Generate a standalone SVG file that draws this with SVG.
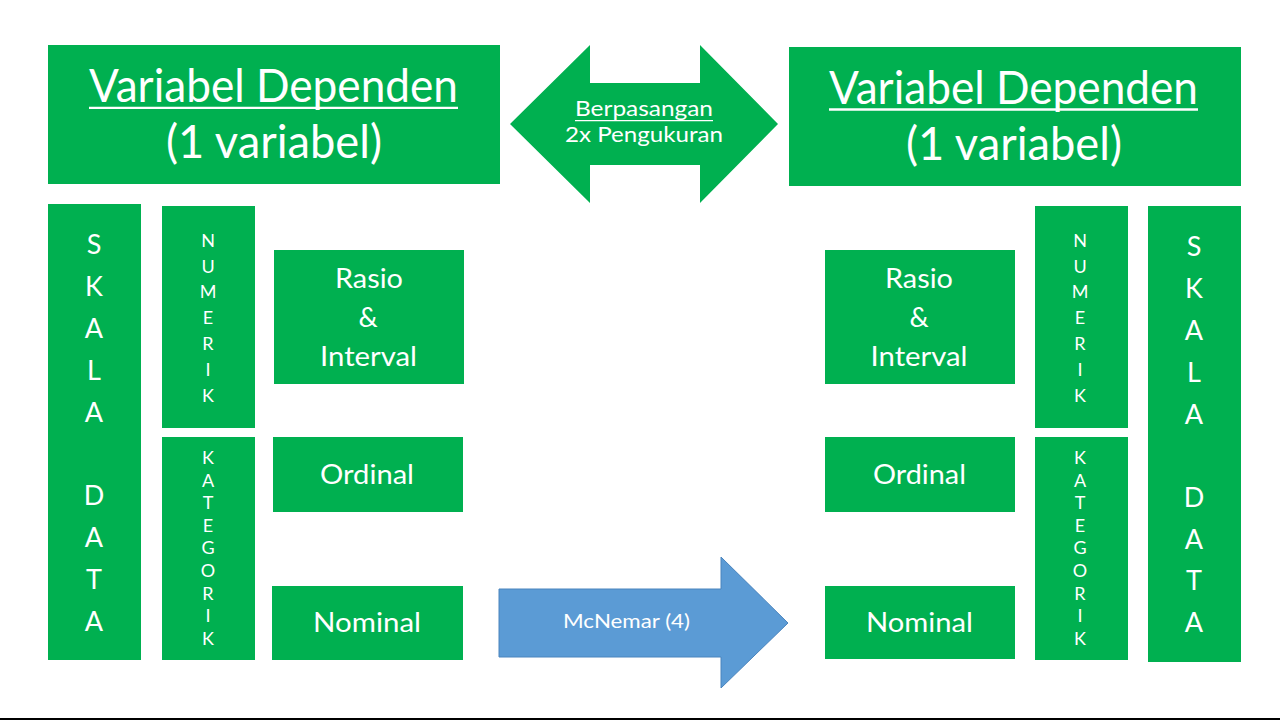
<svg xmlns="http://www.w3.org/2000/svg" width="1280" height="720" viewBox="0 0 1280 720">
<style>
.box{fill:#00B050}
.t{fill:#FFFFFF;font-family:Lato,"Open Sans","Liberation Sans",sans-serif;text-anchor:middle}
.big{font-size:46px}
.mid{font-size:27px}
.sk{font-size:27px}
.vl{font-size:18px}
.ul{stroke:#FFFFFF}
</style>
<rect width="1280" height="720" fill="#FFFFFF"/>
<g id="top-left">
<rect class="box" x="48" y="45" width="452" height="139"/>
<text class="t big" x="273.5" y="102" textLength="369" lengthAdjust="spacingAndGlyphs">Variabel Dependen</text>
<line class="ul" x1="89" y1="107.8" x2="458" y2="107.8" stroke-width="2.3"/>
<text class="t big" x="274" y="158" textLength="216" lengthAdjust="spacingAndGlyphs">(1 variabel)</text>
</g>
<g id="top-right">
<rect class="box" x="789" y="47" width="452" height="139"/>
<text class="t big" x="1013.5" y="104" textLength="369" lengthAdjust="spacingAndGlyphs">Variabel Dependen</text>
<line class="ul" x1="829" y1="109.5" x2="1198" y2="109.5" stroke-width="2.3"/>
<text class="t big" x="1014" y="160" textLength="216" lengthAdjust="spacingAndGlyphs">(1 variabel)</text>
</g>
<g id="paired-arrow">
<polygon fill="#00B050" points="510,124 590,45 590,83 700,83 700,45 778,124 700,203 700,165 590,165 590,203"/>
<text class="t" style="font-size:21px" x="644" y="116" textLength="138" lengthAdjust="spacingAndGlyphs">Berpasangan</text>
<line class="ul" x1="575" y1="120.6" x2="713" y2="120.6" stroke-width="1.4"/>
<text class="t" style="font-size:21px" x="644" y="142" textLength="158" lengthAdjust="spacingAndGlyphs">2x Pengukuran</text>
</g>
<g id="skala-left">
<rect class="box" x="48" y="204" width="93" height="456"/>
<text class="t sk">
<tspan x="94" y="254">S</tspan><tspan x="94" y="296">K</tspan><tspan x="94" y="338">A</tspan><tspan x="94" y="380">L</tspan><tspan x="94" y="422">A</tspan><tspan x="94" y="505">D</tspan><tspan x="94" y="547">A</tspan><tspan x="94" y="589">T</tspan><tspan x="94" y="631">A</tspan>
</text>
</g>
<g id="numerik-left">
<rect class="box" x="162" y="206" width="93" height="222"/>
<text class="t vl">
<tspan x="208" y="247">N</tspan><tspan x="208" y="273">U</tspan><tspan x="208" y="298">M</tspan><tspan x="208" y="324">E</tspan><tspan x="208" y="350">R</tspan><tspan x="208" y="376">I</tspan><tspan x="208" y="402">K</tspan>
</text>
</g>
<g id="kategorik-left">
<rect class="box" x="162" y="437" width="93" height="223"/>
<text class="t vl">
<tspan x="208" y="464">K</tspan><tspan x="208" y="487">A</tspan><tspan x="208" y="509">T</tspan><tspan x="208" y="532">E</tspan><tspan x="208" y="554">G</tspan><tspan x="208" y="577">O</tspan><tspan x="208" y="600">R</tspan><tspan x="208" y="622">I</tspan><tspan x="208" y="645">K</tspan>
</text>
</g>
<g id="rasio-left">
<rect class="box" x="274" y="250" width="190" height="134"/>
<text class="t mid" x="369" y="288" textLength="68" lengthAdjust="spacingAndGlyphs">Rasio</text>
<text class="t mid" x="368" y="327">&amp;</text>
<text class="t mid" x="368.5" y="366" textLength="97" lengthAdjust="spacingAndGlyphs">Interval</text>
</g>
<g id="ordinal-left">
<rect class="box" x="273" y="437" width="190" height="75"/>
<text class="t mid" x="367" y="484" textLength="94" lengthAdjust="spacingAndGlyphs">Ordinal</text>
</g>
<g id="nominal-left">
<rect class="box" x="272" y="586" width="191" height="74"/>
<text class="t mid" x="367" y="632" textLength="108" lengthAdjust="spacingAndGlyphs">Nominal</text>
</g>
<g id="rasio-right">
<rect class="box" x="825" y="250" width="190" height="134"/>
<text class="t mid" x="919" y="288" textLength="68" lengthAdjust="spacingAndGlyphs">Rasio</text>
<text class="t mid" x="919" y="327">&amp;</text>
<text class="t mid" x="919" y="366" textLength="97" lengthAdjust="spacingAndGlyphs">Interval</text>
</g>
<g id="ordinal-right">
<rect class="box" x="825" y="437" width="190" height="75"/>
<text class="t mid" x="919.5" y="484" textLength="93" lengthAdjust="spacingAndGlyphs">Ordinal</text>
</g>
<g id="nominal-right">
<rect class="box" x="825" y="586" width="190" height="73"/>
<text class="t mid" x="919.5" y="632" textLength="107" lengthAdjust="spacingAndGlyphs">Nominal</text>
</g>
<g id="numerik-right">
<rect class="box" x="1035" y="206" width="93" height="222"/>
<text class="t vl">
<tspan x="1080" y="247">N</tspan><tspan x="1080" y="273">U</tspan><tspan x="1080" y="298">M</tspan><tspan x="1080" y="324">E</tspan><tspan x="1080" y="350">R</tspan><tspan x="1080" y="376">I</tspan><tspan x="1080" y="402">K</tspan>
</text>
</g>
<g id="kategorik-right">
<rect class="box" x="1035" y="437" width="93" height="223"/>
<text class="t vl">
<tspan x="1080" y="464">K</tspan><tspan x="1080" y="487">A</tspan><tspan x="1080" y="509">T</tspan><tspan x="1080" y="532">E</tspan><tspan x="1080" y="554">G</tspan><tspan x="1080" y="577">O</tspan><tspan x="1080" y="600">R</tspan><tspan x="1080" y="622">I</tspan><tspan x="1080" y="645">K</tspan>
</text>
</g>
<g id="skala-right">
<rect class="box" x="1148" y="206" width="93" height="456"/>
<text class="t sk">
<tspan x="1194" y="256">S</tspan><tspan x="1194" y="298">K</tspan><tspan x="1194" y="340">A</tspan><tspan x="1194" y="382">L</tspan><tspan x="1194" y="424">A</tspan><tspan x="1194" y="507">D</tspan><tspan x="1194" y="549">A</tspan><tspan x="1194" y="590">T</tspan><tspan x="1194" y="632">A</tspan>
</text>
</g>
<g id="connectors">
<polygon fill="#5B9BD5" stroke="#4A84BD" stroke-width="1" points="499,589 721,589 721,557 788,623 721,688 721,657 499,657"/>
<text class="t" style="font-size:20px" x="626.5" y="628" textLength="127" lengthAdjust="spacingAndGlyphs">McNemar (4)</text>
</g>
<rect x="0" y="718" width="1280" height="2" fill="#000000"/>
</svg>
